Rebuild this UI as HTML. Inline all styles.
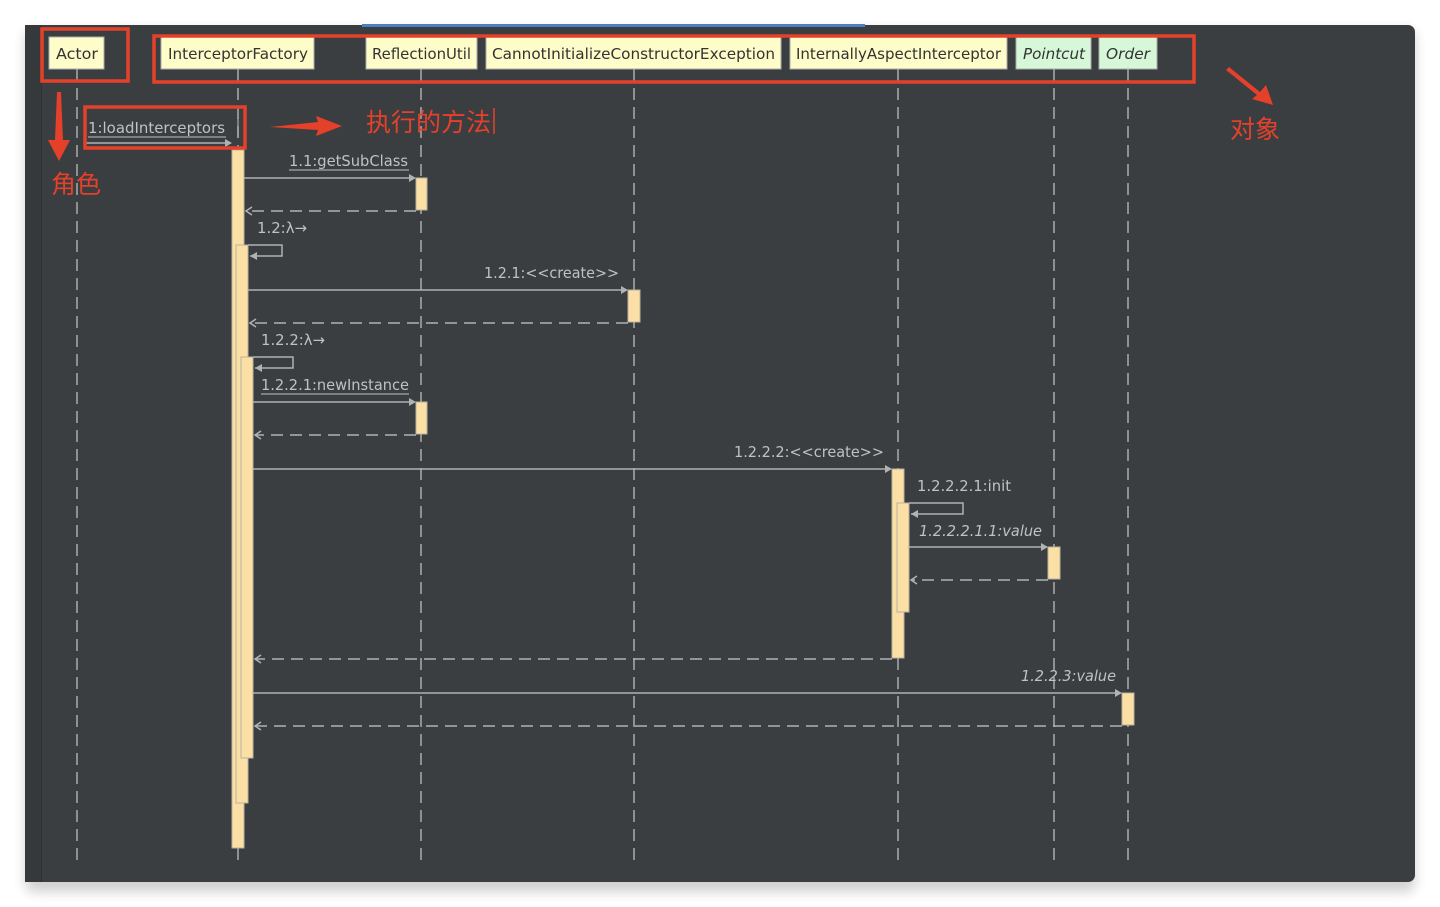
<!DOCTYPE html>
<html><head><meta charset="utf-8"><style>
html,body{margin:0;padding:0;background:#fff;width:1440px;height:907px;overflow:hidden}
svg{display:block}
text{font-family:"DejaVu Sans","Noto Sans CJK SC",sans-serif;}
.cj{font-family:"Noto Sans CJK SC",sans-serif;}
</style></head><body>
<svg width="1440" height="907" viewBox="0 0 1440 907" xmlns="http://www.w3.org/2000/svg">
<defs>
<filter id="sh" x="-5%" y="-5%" width="110%" height="115%"><feGaussianBlur stdDeviation="6"/></filter>
</defs>
<rect x="25" y="30" width="1390" height="862" rx="8" fill="#000" opacity="0.18" filter="url(#sh)"/>
<rect x="25" y="25" width="1390" height="857" rx="7" fill="#3b3e41"/>
<rect x="25" y="25" width="17" height="857" fill="#36393c"/>
<line x1="41.5" y1="25" x2="41.5" y2="882" stroke="#2e3033"/>
<rect x="362" y="24" width="503" height="3" fill="#4a7fc0"/>

<g stroke="#a9abae" stroke-width="1.5" stroke-dasharray="12,7" fill="none">
<line x1="77" y1="69" x2="77" y2="865"/>
<line x1="238" y1="69" x2="238" y2="865"/>
<line x1="421" y1="69" x2="421" y2="865"/>
<line x1="634" y1="69" x2="634" y2="865"/>
<line x1="898" y1="69" x2="898" y2="865"/>
<line x1="1054" y1="69" x2="1054" y2="865"/>
<line x1="1128" y1="69" x2="1128" y2="865"/>
</g>

<g font-size="15" fill="#333">
<rect x="49" y="37" width="55" height="32" fill="#fefdc9" stroke="#aaa"/><text x="56" y="59" textLength="42" lengthAdjust="spacingAndGlyphs">Actor</text>
<rect x="161" y="37" width="153" height="32" fill="#fefdc9" stroke="#aaa"/><text x="168" y="59" textLength="140" lengthAdjust="spacingAndGlyphs">InterceptorFactory</text>
<rect x="366" y="37" width="111" height="32" fill="#fefdc9" stroke="#aaa"/><text x="372" y="59" textLength="99" lengthAdjust="spacingAndGlyphs">ReflectionUtil</text>
<rect x="486" y="37" width="295" height="32" fill="#fefdc9" stroke="#aaa"/><text x="492" y="59" textLength="283" lengthAdjust="spacingAndGlyphs">CannotInitializeConstructorException</text>
<rect x="790" y="37" width="217" height="32" fill="#fefdc9" stroke="#aaa"/><text x="796" y="59" textLength="205" lengthAdjust="spacingAndGlyphs">InternallyAspectInterceptor</text>
<rect x="1016" y="37" width="75" height="32" fill="#d6f8d8" stroke="#aaa"/><text x="1023" y="59" font-style="italic" textLength="62" lengthAdjust="spacingAndGlyphs">Pointcut</text>
<rect x="1099" y="37" width="58" height="32" fill="#d6f8d8" stroke="#aaa"/><text x="1106" y="59" font-style="italic" textLength="44" lengthAdjust="spacingAndGlyphs">Order</text>
</g>

<g fill="#fbdfa4" stroke="#b9b39f" stroke-width="1">
<rect x="232" y="150" width="12" height="698"/>
<rect x="236" y="245" width="12" height="558"/>
<rect x="241" y="357" width="12" height="401"/>
<rect x="416" y="178" width="11" height="32"/>
<rect x="416" y="402" width="11" height="32"/>
<rect x="628" y="290" width="12" height="32"/>
<rect x="892" y="469" width="12" height="189"/>
<rect x="897" y="503" width="12" height="109"/>
<rect x="1048" y="547" width="12" height="32"/>
<rect x="1122" y="693" width="12" height="32"/>
</g>

<g stroke="#b0b2b4" stroke-width="1.5" fill="none">
<line x1="85" y1="143" x2="230" y2="143"/>
<line x1="244" y1="178" x2="414" y2="178"/>
<line x1="416" y1="211" x2="246" y2="211" stroke-dasharray="12,7"/>
<polyline points="248,245 282,245 282,256 250,256"/>
<line x1="248" y1="290" x2="626" y2="290"/>
<line x1="628" y1="323" x2="250" y2="323" stroke-dasharray="12,7"/>
<polyline points="253,357 293,357 293,368 255,368"/>
<line x1="253" y1="402" x2="414" y2="402"/>
<line x1="416" y1="435" x2="255" y2="435" stroke-dasharray="12,7"/>
<line x1="253" y1="469" x2="890" y2="469"/>
<polyline points="909,503 963,503 963,514 911,514"/>
<line x1="909" y1="547" x2="1046" y2="547"/>
<line x1="1048" y1="580" x2="911" y2="580" stroke-dasharray="12,7"/>
<line x1="892" y1="659" x2="255" y2="659" stroke-dasharray="12,7"/>
<line x1="253" y1="693" x2="1120" y2="693"/>
<line x1="1122" y1="726" x2="255" y2="726" stroke-dasharray="12,7"/>
<polyline points="252,207 246,211 252,215"/>
<polyline points="256,319 250,323 256,327"/>
<polyline points="261,431 255,435 261,439"/>
<polyline points="917,576 911,580 917,584"/>
<polyline points="261,655 255,659 261,663"/>
<polyline points="261,722 255,726 261,730"/>
</g>
<g fill="#b0b2b4">
<polygon points="232,143 225,139 225,147"/>
<polygon points="416,178 409,174 409,182"/>
<polygon points="250,256 257,252 257,260"/>
<polygon points="628,290 621,286 621,294"/>
<polygon points="255,368 262,364 262,372"/>
<polygon points="416,402 409,398 409,406"/>
<polygon points="892,469 885,465 885,473"/>
<polygon points="911,514 918,510 918,518"/>
<polygon points="1048,547 1041,543 1041,551"/>
<polygon points="1122,693 1115,689 1115,697"/>
</g>

<g font-size="15" fill="#bfc1c3">
<text x="88" y="133" textLength="137" lengthAdjust="spacingAndGlyphs">1:loadInterceptors</text><line x1="88" y1="137" x2="226" y2="137" stroke="#bfc1c3"/>
<line x1="238" y1="118" x2="238" y2="138" stroke="#bfc1c3"/>
<text x="289" y="166" textLength="119" lengthAdjust="spacingAndGlyphs">1.1:getSubClass</text><line x1="289" y1="170" x2="409" y2="170" stroke="#bfc1c3"/>
<text x="257" y="233" textLength="50" lengthAdjust="spacingAndGlyphs">1.2:λ→</text>
<text x="484" y="278" textLength="135" lengthAdjust="spacingAndGlyphs">1.2.1:&lt;&lt;create&gt;&gt;</text>
<text x="261" y="345" textLength="64" lengthAdjust="spacingAndGlyphs">1.2.2:λ→</text>
<text x="261" y="390" textLength="148" lengthAdjust="spacingAndGlyphs">1.2.2.1:newInstance</text><line x1="261" y1="394" x2="409" y2="394" stroke="#bfc1c3"/>
<text x="734" y="457" textLength="150" lengthAdjust="spacingAndGlyphs">1.2.2.2:&lt;&lt;create&gt;&gt;</text>
<text x="917" y="491" textLength="94" lengthAdjust="spacingAndGlyphs">1.2.2.2.1:init</text>
<text x="919" y="536" font-style="italic" textLength="123" lengthAdjust="spacingAndGlyphs">1.2.2.2.1.1:value</text>
<text x="1021" y="681" font-style="italic" textLength="95" lengthAdjust="spacingAndGlyphs">1.2.2.3:value</text>
</g>

<g stroke="#e5402a" stroke-width="3.5" fill="none">
<rect x="42" y="29" width="86" height="52"/>
<rect x="154" y="36" width="1040" height="46"/>
<rect x="85" y="107" width="160" height="41"/>
</g>
<g fill="#e5402a">
<polygon points="270,127 318,122 316,116 342,126 316,136 318,130"/>
<polygon points="57,92 61,92 63,140 70,140 59,161 48,140 55,140"/>
<polygon points="1226,70 1229,67 1260,92 1266,85 1273,105 1252,99 1257,95"/>
</g>
<g font-size="25" fill="#e5402a" class="cj">
<text x="366" y="131" class="cj">执行的方法</text>
<text x="51" y="193" class="cj">角色</text>
<text x="1230" y="138" class="cj">对象</text>
</g>
<line x1="494" y1="108" x2="494" y2="134" stroke="#e5402a" stroke-width="1.5"/>
</svg>
</body></html>
